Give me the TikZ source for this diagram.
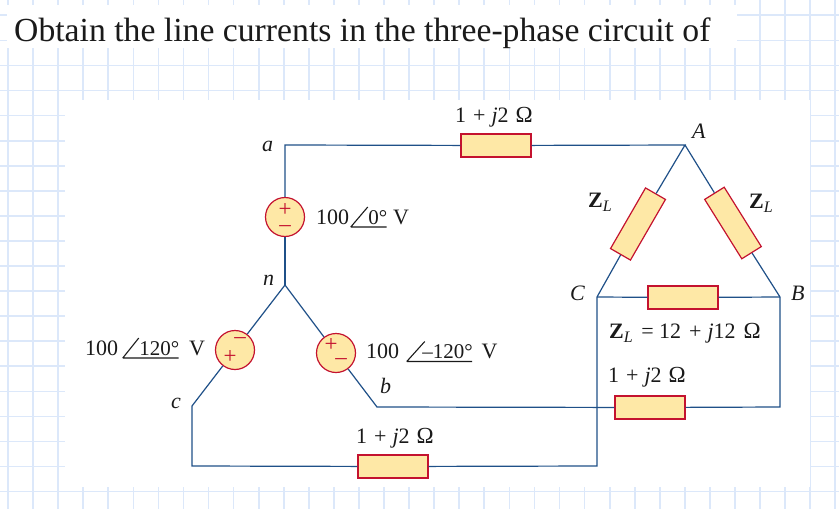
\documentclass[tikz,border=0pt]{standalone}
\usepackage{fontspec}
\setmainfont{Liberation Serif}
\definecolor{gridc}{HTML}{DCE8FA}
\definecolor{wirec}{HTML}{1F5088}
\definecolor{redc}{HTML}{C4122F}
\definecolor{fillc}{HTML}{FEE8A6}
\definecolor{textc}{HTML}{1A1A1A}
\newsavebox{\phbox}
\newcommand{\phasor}[3]{% run width, rise, text
  \sbox{\phbox}{\fontsize{21}{24}\selectfont #3}%
  \tikz[baseline=0pt,x=1pt,y=1pt,line width=1.1pt]{\draw[textc] (0,-3) -- (#1,#2) (0,-3) -- ({#1+\wd\phbox/1pt},-3);}%
  \kern-\wd\phbox\usebox{\phbox}}
\newcommand{\ZL}{\textbf{Z}\raisebox{-4pt}{\fontsize{16}{16}\selectfont\itshape L}}
\newcommand{\imp}[1]{1\kern7pt+\kern6pt\textit{j}#1\kern7pt{\fontsize{23}{24}\selectfont Ω}}
\tikzset{
  lab/.style={anchor=base west,inner sep=0,text=textc,font=\fontsize{22}{24}\selectfont},
  wire/.style={draw=wirec,line width=1.2pt},
  res/.style={draw=redc,fill=fillc,line width=1.2pt,minimum width=70pt,minimum height=23pt,inner sep=0},
  src/.style={circle,draw=redc,fill=fillc,line width=1.2pt,minimum size=39pt,inner sep=0},
  sgn/.style={inner sep=0,text=redc,font=\fontsize{23}{23}\selectfont},
  jn/.style={inner sep=0,minimum size=0pt}
}
\begin{document}
\begin{tikzpicture}[x=1pt,y=-1pt]
\useasboundingbox (0,0) rectangle (839,509);
\fill[white] (0,0) rectangle (839,509);
% grid paper
\foreach \k in {0,...,33} \draw[gridc,line width=1.7pt] ({8+25.07*\k},0) -- ({8+25.07*\k},509);
\foreach \k in {0,...,19} \draw[gridc,line width=1.7pt] (0,{15.3+25.07*\k}) -- (839,{15.3+25.07*\k});
\fill[white] (7,5) rectangle (737,48);
\fill[white] (65,100) rectangle (810,487);
% title
\node[anchor=base west,inner sep=0,text=textc,font=\fontsize{33.7}{36}\selectfont] (title) at (14,41) {Obtain the line currents in the three-phase circuit of};
% junctions
\coordinate (a) at (285,145);
\coordinate (A) at (685,145);
\coordinate (C) at (597,297);
\coordinate (B) at (780,297);
\coordinate (n) at (285,285);
\coordinate (c) at (192,406);
\coordinate (cb) at (192,466);
\coordinate (bb) at (597,466);
\coordinate (b) at (377,407);
\coordinate (Bb) at (780,407);
% elements
\node[res] (Ra) at (496,145.5) {};
\node[res] (Rb) at (650,407.5) {};
\node[res] (Rc) at (393,466.5) {};
\node[res] (Rbc) at (683,297.5) {};
\node[res,rotate=60] (Rac) at (638,224) {};
\node[res,rotate=-58] (Rab) at (733,223) {};
\node[src,text=redc,font=\fontsize{23}{15}\selectfont,align=center] (Sa) at (285,217) {+\\[0pt]–};
\node[src] (Sb) at (336,353) {};
\node[src] (Sc) at (235,350) {};
\node[sgn] (pb) at (331,345) {+};
\node[sgn] (mb) at (341,361.5) {–};
\node[sgn] (pc) at (230,357) {+};
\node[sgn] (mc) at (240,341) {–};
% connectors
\draw[wire,line join=miter] (Sa) -- (a) -- (Ra);
\draw[wire,line join=miter] (Ra) -- (A) -- (Rac);
\draw[wire] (A) -- (Rab);
\draw[wire] (Rac) -- (C);
\draw[wire] (Rab) -- (B);
\draw[wire] (C) -- (Rbc);
\draw[wire] (Rbc) -- (B);
\draw[wire] (Sa) -- (n);
\draw[wire] (n) -- (Sb);
\draw[wire] (n) -- (Sc);
\draw[wire] (Sb) -- (b) -- (Rb);
\draw[wire] (Rb) -- (Bb) -- (B);
\draw[wire] (Sc) -- (c) -- (cb) -- (Rc);
\draw[wire] (Rc) -- (bb) -- (C);
% labels
\node[lab] (la) at (262,151) {\itshape a};
\node[lab] (ln) at (263,285) {\itshape n};
\node[lab] (lc) at (171,408) {\itshape c};
\node[lab] (lb) at (380,393) {\itshape b};
\node[lab] (lA) at (692,138) {\itshape A};
\node[lab] (lB) at (791,300) {\itshape B};
\node[lab] (lC) at (570,300) {\itshape C};
\node[lab] (z1) at (588,207) {\ZL};
\node[lab] (z2) at (749,208) {\ZL};
\node[lab] (z3) at (609,338) {\ZL\kern3pt\ = 12\kern8pt+\kern6pt\textit{j}12\kern8pt{\fontsize{23}{24}\selectfont Ω}};
\node[lab] (r1) at (455,122) {\imp{2}};
\node[lab] (r2) at (356,443) {\imp{2}};
\node[lab] (r3) at (608,382) {\imp{2}};
\node[lab] (va) at (316,224) {100\kern1pt\phasor{17}{17}{0°}\kern6pt V};
\node[lab] (vb) at (366,358.5) {100\kern7pt\phasor{18}{17}{\kern-3pt–120°}\kern9pt V};
\node[lab] (vc) at (85,355) {100\kern4pt\phasor{16}{17}{120°}\kern10pt V};
\end{tikzpicture}
\end{document}
